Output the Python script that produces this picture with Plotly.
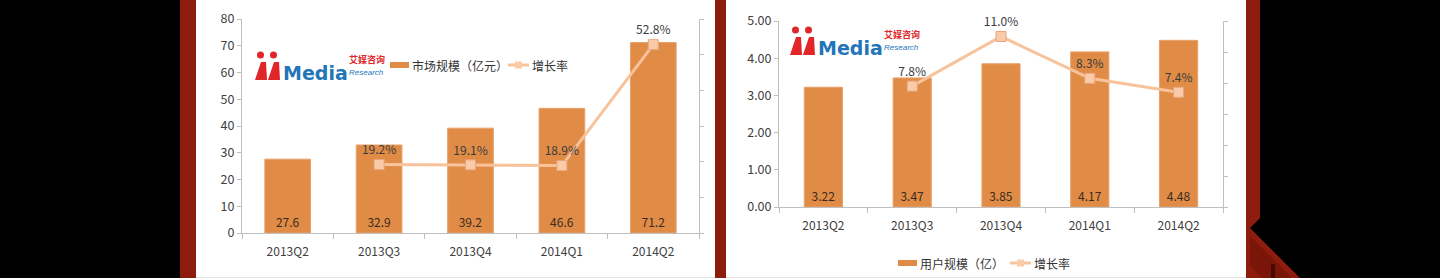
import plotly.graph_objects as go

# ---------------- data ----------------
quarters = ["2013Q2", "2013Q3", "2013Q4", "2014Q1", "2014Q2"]
market_size = [27.6, 32.9, 39.2, 46.6, 71.2]          # 市场规模（亿元）
market_growth = [None, 0.192, 0.191, 0.189, 0.528]   # 增长率
user_size = [3.22, 3.47, 3.85, 4.17, 4.48]            # 用户规模（亿）
user_growth = [None, 0.078, 0.110, 0.083, 0.074]     # 增长率

W, H = 1440, 278
def X(px):
    return px / W
def Y(py):
    return 1 - py / H

BAR = "#E08C47"
LINE = "#F8C29B"
MK = "#F9CBA8"
MKL = "#EAA57E"
AX = "#BFBFBF"
TXT = "#404040"
FONT = "Noto Sans CJK SC"
RED = "#8E1C0C"

fig = go.Figure()

# ---- left chart ----
fig.add_trace(go.Bar(
    x=quarters, y=market_size, width=0.5,
    marker=dict(color=BAR, line=dict(color="#E9A06A", width=1)),
    text=[f"{v:.1f}" for v in market_size], textposition="inside",
    insidetextanchor="start", textangle=0,
    textfont=dict(color="#3B2A1E", size=12, family=FONT),
    xaxis="x", yaxis="y", showlegend=False, cliponaxis=False))
fig.add_trace(go.Scatter(
    x=quarters, y=market_growth, mode="lines+markers+text",
    line=dict(color=LINE, width=3),
    marker=dict(symbol="square", size=10, color=MK, line=dict(color=MKL, width=1)),
    text=[("" if v is None else f"{v*100:.1f}%") for v in market_growth],
    textposition="top center",
    textfont=dict(color="#3B3B3B", size=12, family=FONT),
    xaxis="x", yaxis="y2", showlegend=False, cliponaxis=False))

# ---- right chart ----
fig.add_trace(go.Bar(
    x=quarters, y=user_size, width=0.43,
    marker=dict(color=BAR, line=dict(color="#E9A06A", width=1)),
    text=[f"{v:.2f}" for v in user_size], textposition="inside",
    insidetextanchor="start", textangle=0,
    textfont=dict(color="#3B2A1E", size=12, family=FONT),
    xaxis="x2", yaxis="y3", showlegend=False, cliponaxis=False))
fig.add_trace(go.Scatter(
    x=quarters, y=user_growth, mode="lines+markers+text",
    line=dict(color=LINE, width=3),
    marker=dict(symbol="square", size=10, color=MK, line=dict(color=MKL, width=1)),
    text=[("" if v is None else f"{v*100:.1f}%") for v in user_growth],
    textposition="top center",
    textfont=dict(color="#3B3B3B", size=12, family=FONT),
    xaxis="x2", yaxis="y4", showlegend=False, cliponaxis=False))

common_x = dict(type="category", showline=True, linecolor=AX, linewidth=1,
                ticks="outside", tickson="boundaries", ticklen=5, tickcolor=AX,
                tickfont=dict(size=12, color=TXT, family=FONT), showgrid=False,
                ticklabelstandoff=8, fixedrange=True, automargin=False)
common_y = dict(showline=True, linecolor=AX, linewidth=1, ticks="outside",
                ticklen=4, tickcolor=AX, showgrid=False, zeroline=False,
                tickfont=dict(size=12.5, color=TXT, family=FONT), fixedrange=True,
                automargin=False)

shapes = []
def rect(x0, x1, y0, y1, color, layer="below"):
    shapes.append(dict(type="rect", xref="paper", yref="paper",
                       x0=X(x0), x1=X(x1), y0=Y(y1), y1=Y(y0),
                       fillcolor=color, line=dict(width=0), layer=layer))
def path(pts, color, layer="below"):
    d = "M " + " L ".join(f"{X(a):.5f},{Y(b):.5f}" for a, b in pts) + " Z"
    shapes.append(dict(type="path", xref="paper", yref="paper", path=d,
                       fillcolor=color, line=dict(width=0), layer=layer))
def seg(x0, y0, x1, y1, color, width, layer="below"):
    shapes.append(dict(type="line", xref="paper", yref="paper",
                       x0=X(x0), y0=Y(y0), x1=X(x1), y1=Y(y1),
                       line=dict(color=color, width=width), layer=layer))

# background panels
rect(180, 196, 0, 278, RED)
rect(196, 715, 0, 278, "#FFFFFF")
rect(715, 726, 0, 278, RED)
rect(726, 1246, 0, 278, "#FFFFFF")
path([(1246, 0), (1260, 0), (1260, 218), (1250, 228), (1300, 278), (1246, 278)], RED)
path([(1250, 236), (1292, 278), (1262, 278), (1250, 266)], "#7A150A")
rect(1271, 1275, 264, 278, "#4A0A04")
seg(196, 277.5, 715, 277.5, "#E4E4E4", 1)
seg(726, 277.5, 1246, 277.5, "#E4E4E4", 1)

annotations = []
def text(x, y, s, size, color, anchor="left", family=FONT, bold=False, italic=False,
         yanchor="middle"):
    if bold:
        s = f"<b>{s}</b>"
    if italic:
        s = f"<i>{s}</i>"
    annotations.append(dict(xref="paper", yref="paper", x=X(x), y=Y(y), text=s,
                            showarrow=False, xanchor=anchor, yanchor=yanchor,
                            borderpad=0,
                            font=dict(size=size, color=color, family=family)))

def logo(x0, ydot):
    red = "#E1262A"
    blue = "#2275B8"
    for dx in (0, 13):
        shapes.append(dict(type="circle", xref="paper", yref="paper",
                           x0=X(x0 + dx + 1), x1=X(x0 + dx + 8),
                           y0=Y(ydot + 3.5), y1=Y(ydot - 3.5),
                           fillcolor=red, line=dict(width=0), layer="above"))
        path([(x0 + dx - 1, ydot + 25), (x0 + dx + 5, ydot + 7),
              (x0 + dx + 10, ydot + 7), (x0 + dx + 11, ydot + 25)], red, layer="above")
    text(x0 + 26, ydot + 18, "Media", 19, blue, family="DejaVu Sans", bold=True)
    text(x0 + 92, ydot + 12, "艾媒咨询", 9, red, bold=True, yanchor="bottom")
    text(x0 + 92, ydot + 12, "Research", 8, blue, family="Liberation Sans", italic=True,
         yanchor="top")

logo(256, 55)
logo(791, 30)

def legend(xr, ytxt, label1, xl, label2):
    rect(xr, xr + 19, ytxt - 3, ytxt + 3, BAR, layer="above")
    text(xr + 21, ytxt, label1, 12, "#333333")
    seg(xl, ytxt, xl + 21, ytxt, LINE, 3, layer="above")
    rect(xl + 7, xl + 14, ytxt - 3.5, ytxt + 3.5, MK, layer="above")
    text(xl + 23, ytxt, label2, 12, "#333333")

legend(390, 65, "市场规模（亿元）", 508, "增长率")
legend(898, 263, "用户规模（亿）", 1010, "增长率")

fig.update_layout(
    width=W, height=H, margin=dict(l=0, r=0, t=0, b=0, autoexpand=False),
    paper_bgcolor="#000000", plot_bgcolor="rgba(0,0,0,0)",
    font=dict(family=FONT, color=TXT),
    showlegend=False, bargap=0.5,
    xaxis=dict(common_x, domain=[X(242), X(699)], anchor="y"),
    yaxis=dict(common_y, domain=[Y(233), Y(19)], range=[0, 80], dtick=10, anchor="x"),
    yaxis2=dict(common_y, overlaying="y", side="right", range=[0, 0.6], dtick=0.1,
                showticklabels=False, anchor="x"),
    xaxis2=dict(common_x, domain=[X(779), X(1223)], anchor="y3"),
    yaxis3=dict(common_y, domain=[Y(207), Y(21)], range=[0, 5], dtick=1,
                tickformat=".2f", anchor="x2"),
    yaxis4=dict(common_y, overlaying="y3", side="right", range=[0, 0.12], dtick=0.02,
                showticklabels=False, anchor="x2"),
    shapes=shapes, annotations=annotations,
)

fig.write_html("out.html")
